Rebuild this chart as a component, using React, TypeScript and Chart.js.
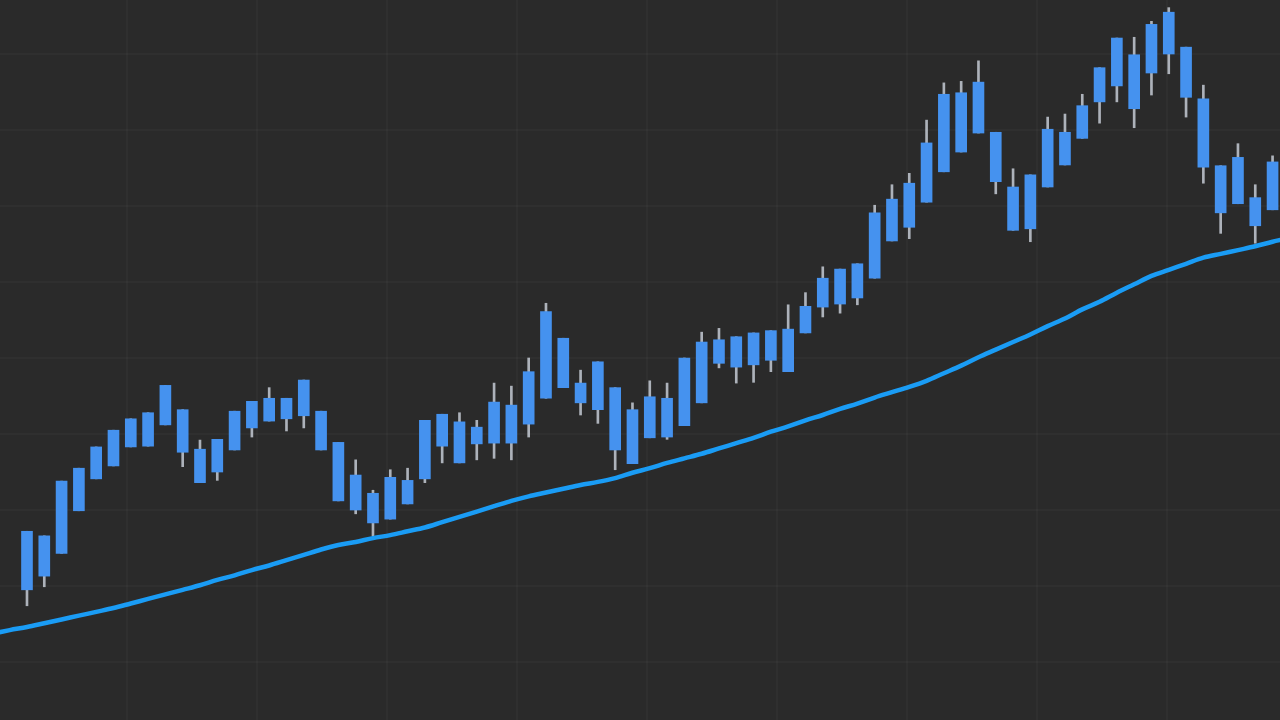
import React, { useEffect, useRef } from "react";
import { Chart, registerables } from "chart.js";

Chart.register(...registerables);

// Trading days shown (1-based)
const days = [
  1, 2, 3, 4, 5, 6, 7, 8, 9, 10, 11, 12, 13, 14, 15, 16, 17, 18, 19, 20,
  21, 22, 23, 24, 25, 26, 27, 28, 29, 30, 31, 32, 33, 34, 35, 36, 37, 38, 39, 40,
  41, 42, 43, 44, 45, 46, 47, 48, 49, 50, 51, 52, 53, 54, 55, 56, 57, 58, 59, 60,
  61, 62, 63, 64, 65, 66, 67, 68, 69, 70, 71, 72, 73, 74,
];

const openP = [
  127.2, 121.3, 124.3, 129.9, 134.1, 135.8, 138.3, 138.4, 141.2, 143.2,
  138.0, 135.0, 137.9, 140.8, 141.7, 142.0, 142.4, 143.0, 138.9, 134.6,
  132.2, 128.8, 130.8, 134.1, 138.4, 141.6, 138.7, 138.8, 143.8, 141.3,
  144.7, 152.6, 146.7, 143.2, 146.1, 143.2, 139.5, 144.7, 141.1, 144.1,
  149.3, 152.8, 149.1, 149.7, 153.8, 153.3, 156.7, 157.1, 157.9, 160.5,
  165.4, 167.2, 170.5, 174.5, 177.1, 179.6, 179.7, 172.5, 167.0, 172.5,
  175.4, 178.9, 183.7, 185.8, 189.9, 187.5, 190.0, 190.9, 184.1, 175.3,
  170.3, 171.1, 169.5, 175.8,
];

const closeP = [
  119.5, 126.6, 133.8, 135.5, 138.3, 140.5, 142.0, 142.8, 146.4, 137.6,
  133.6, 139.3, 143.0, 144.3, 144.7, 144.7, 147.1, 137.9, 131.2, 130.0,
  128.3, 134.3, 133.9, 141.8, 142.6, 136.2, 140.9, 144.2, 138.8, 148.2,
  156.1, 146.1, 144.1, 149.5, 137.9, 136.1, 144.9, 139.6, 150.0, 152.1,
  152.4, 148.8, 153.3, 153.6, 148.2, 156.8, 160.5, 161.7, 162.4, 169.1,
  170.9, 173.0, 178.3, 184.7, 184.9, 186.3, 173.2, 166.8, 174.1, 180.1,
  179.7, 183.2, 188.2, 192.1, 182.8, 193.9, 195.5, 184.3, 175.1, 169.1,
  176.4, 167.4, 175.8, 167.9,
];

const highP = [
  127.2, 126.6, 133.8, 135.5, 138.3, 140.5, 142.0, 142.8, 146.4, 143.2,
  139.2, 139.3, 143.0, 144.3, 146.1, 144.7, 147.1, 143.0, 138.9, 136.6,
  132.6, 135.3, 135.5, 141.8, 142.6, 142.8, 141.8, 146.7, 146.3, 150.0,
  157.2, 152.6, 148.4, 149.5, 146.1, 144.1, 147.0, 146.7, 150.0, 153.4,
  153.9, 152.8, 153.3, 153.6, 157.0, 158.6, 162.0, 161.7, 162.4, 170.1,
  172.8, 174.3, 181.3, 186.2, 186.4, 189.1, 179.7, 174.9, 174.1, 181.7,
  182.1, 184.7, 188.2, 192.1, 192.2, 194.3, 196.1, 190.9, 185.9, 175.3,
  178.2, 172.8, 176.6, 175.8,
];

const lowP = [
  117.4, 119.9, 124.3, 129.9, 134.1, 135.8, 138.3, 138.4, 141.2, 135.7,
  133.6, 133.9, 137.9, 139.6, 141.7, 140.4, 140.8, 137.9, 131.2, 129.5,
  126.6, 128.8, 130.8, 133.6, 136.2, 136.2, 136.6, 136.8, 136.6, 139.6,
  144.7, 146.1, 142.5, 141.4, 135.3, 136.1, 139.5, 139.3, 141.1, 144.1,
  148.7, 146.7, 146.8, 148.2, 148.2, 153.3, 155.4, 155.9, 157.0, 160.5,
  165.4, 165.7, 170.5, 174.5, 177.1, 179.6, 171.6, 166.8, 165.3, 172.5,
  175.4, 178.9, 180.9, 183.7, 180.3, 184.6, 187.4, 181.7, 173.0, 166.4,
  170.3, 165.1, 169.5, 166.6,
];

// Moving average (includes two earlier days so the line reaches the left edge)
const maDays = [
  -1, 0, 1, 2, 3, 4, 5, 6, 7, 8, 9, 10, 11, 12, 13, 14, 15, 16, 17, 18, 19, 20,
  21, 22, 23, 24, 25, 26, 27, 28, 29, 30, 31, 32, 33, 34, 35, 36, 37, 38, 39, 40,
  41, 42, 43, 44, 45, 46, 47, 48, 49, 50, 51, 52, 53, 54, 55, 56, 57, 58, 59, 60,
  61, 62, 63, 64, 65, 66, 67, 68, 69, 70, 71, 72, 73, 74,
];
const maValues = [
  113.7, 114.2,
  114.6, 115.1, 115.6, 116.1, 116.6, 117.1, 117.7, 118.3, 118.9, 119.5,
  120.1, 120.8, 121.4, 122.1, 122.7, 123.4, 124.1, 124.8, 125.4, 125.8,
  126.3, 126.7, 127.2, 127.7, 128.4, 129.1, 129.8, 130.5, 131.2, 131.8,
  132.3, 132.8, 133.3, 133.7, 134.2, 134.9, 135.5, 136.2, 136.8, 137.4,
  138.1, 138.8, 139.5, 140.3, 141.0, 141.8, 142.5, 143.3, 144.0, 144.8,
  145.5, 146.2, 147.0, 148.0, 149.0, 150.1, 151.1, 152.1, 153.1, 154.2,
  155.2, 156.4, 157.4, 158.6, 159.7, 160.8, 161.6, 162.4, 163.2, 163.7,
  164.2, 164.7, 165.3, 165.8,
];

const priceGrid = [110, 120, 130, 140, 150, 160, 170, 180, 190];

const BG = "#2a2a2a";
const BODY = "#4592ef";
const WICK = "rgba(196,202,212,0.85)";
const MA = "#1a9cf5";
const GRID = "rgba(255,255,255,0.028)";

export default function App() {
  const ref = useRef<HTMLCanvasElement | null>(null);

  useEffect(() => {
    document.body.style.margin = "0";
    document.body.style.background = BG;
    const canvas = ref.current;
    if (!canvas) return;

    const wickData = days.map((d, i) => ({ x: d, y: [lowP[i], highP[i]] }));
    const bodyData = days.map((d, i) => ({ x: d, y: [openP[i], closeP[i]] }));
    const maData = maDays.map((d, i) => ({ x: d, y: maValues[i] }));

    const chart = new Chart(canvas, {
      type: "bar",
      data: {
        datasets: [
          {
            type: "line",
            label: "MA",
            data: maData as any,
            borderColor: MA,
            borderWidth: 4.5,
            pointRadius: 0,
            tension: 0.4,
            cubicInterpolationMode: "monotone",
            order: 1,
          } as any,
          {
            type: "bar",
            label: "Body",
            data: bodyData as any,
            backgroundColor: BODY,
            borderWidth: 0,
            barThickness: 11,
            grouped: false,
            order: 2,
          } as any,
          {
            type: "bar",
            label: "Wick",
            data: wickData as any,
            backgroundColor: WICK,
            borderWidth: 0,
            barThickness: 2,
            grouped: false,
            order: 3,
          } as any,
        ],
      },
      options: {
        responsive: false,
        animation: false,
        devicePixelRatio: 1,
        layout: { padding: 0 },
        plugins: {
          legend: { display: false },
          tooltip: { enabled: false },
        },
        scales: {
          x: {
            type: "linear",
            display: false,
            offset: false,
            min: -0.56,
            max: 73.43,
            grid: { offset: false },
          },
          y: {
            type: "linear",
            position: "left",
            min: 102.37,
            max: 197.105,
            grid: { color: GRID, lineWidth: 2, drawTicks: false },
            border: { display: false },
            ticks: { display: false },
            afterBuildTicks: (scale: any) => {
              scale.ticks = priceGrid.map((v) => ({ value: v }));
            },
          },
          gx: {
            type: "linear",
            axis: "x",
            position: "bottom",
            offset: false,
            min: 0,
            max: 1280,
            grid: { color: GRID, lineWidth: 2, drawTicks: false, offset: false },
            border: { display: false },
            ticks: { display: false },
            afterBuildTicks: (scale: any) => {
              scale.ticks = Array.from({ length: 9 }, (_, k) => ({ value: 127 + 130 * k }));
            },
          },
        } as any,
      },
    });

    return () => chart.destroy();
  }, []);

  return (
    <div
      style={{
        position: "fixed",
        left: 0,
        top: 0,
        width: 1280,
        height: 720,
        background: BG,
      }}
    >
      <canvas ref={ref} width={1280} height={720} style={{ display: "block" }} />
    </div>
  );
}
